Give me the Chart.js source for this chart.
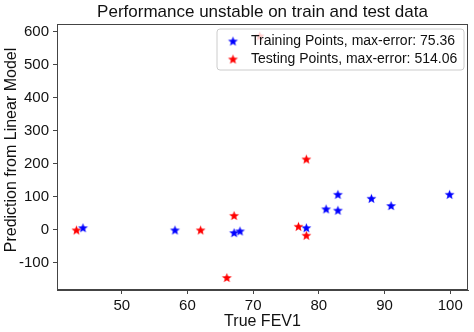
<!DOCTYPE html>
<html>
<head>
<meta charset="utf-8">
<script src="https://cdn.jsdelivr.net/npm/chart.js@4/dist/chart.umd.min.js"></script>
<style>
  html, body { margin: 0; padding: 0; background: #fff; }
</style>
</head>
<body>
<canvas id="chart" width="474" height="332"></canvas>
<script>
// data
const trainX = [44.1, 58.1, 67.1, 68.0, 78.1, 81.1, 82.9, 82.9, 88.0, 91.0, 99.9];
const trainY = [7, 0, -8, -3, 7, 64, 108, 60, 96, 74, 108];
const testX = [43.1, 62.0, 66.0, 67.1, 71.0, 76.9, 78.1, 78.1];
const testY = [0, 0, -144, 44, 588, 11, -16, 215];
const xTicks = [50, 60, 70, 80, 90, 100];
const yTicks = [-100, 0, 100, 200, 300, 400, 500, 600];
const trainLabel = "Training Points, max-error: 75.36";
const testLabel = "Testing Points, max-error: 514.06";
const titleText = "Performance unstable on train and test data";

const FONT = "'Liberation Sans', Arial, sans-serif";

// filled 5 point star like matplotlib '*'
function makeStar(color, r) {
    let cv = document.createElement("canvas");
    let s = Math.ceil(r * 2 + 2);
    cv.width = s;
    cv.height = s;
    let g = cv.getContext("2d");
    g.beginPath();
    for (let i = 0; i < 10; i++) {
        let rad = i % 2 ? r * 0.42 : r;
        let a = -Math.PI / 2 + (i * Math.PI) / 5;
        g.lineTo(s / 2 + rad * Math.cos(a), s / 2 + 0.6 + rad * Math.sin(a));
    }
    g.closePath();
    g.fillStyle = color;
    g.fill();
    return cv;
}

let blueStar = makeStar("#0000ff", 5.2);
let redStar = makeStar("#ff0000", 5.2);

// frame, titles and the legend box
let decorations = {
    id: "decorations",
    afterDatasetsDraw(chart) {
        let ctx = chart.ctx;
        let a = chart.chartArea;
        ctx.save();
        ctx.strokeStyle = "#444";
        ctx.lineWidth = 1;
        ctx.strokeRect(a.left + 0.5, a.top + 0.5, a.right - a.left - 1, a.bottom - a.top - 1);

        ctx.fillStyle = "#111";
        ctx.textAlign = "center";
        ctx.textBaseline = "middle";
        ctx.font = "17px " + FONT;
        ctx.fillText(titleText, (a.left + a.right) / 2, 12);

        ctx.save();
        ctx.translate(12, 150);
        ctx.rotate(-Math.PI / 2);
        ctx.font = "16px " + FONT;
        ctx.fillText("Prediction from Linear Model", 0, 0);
        ctx.restore();

        // legend
        let bx = 217, by = 29, bw = 247, bh = 41, r = 3;
        ctx.beginPath();
        ctx.moveTo(bx + r, by);
        ctx.arcTo(bx + bw, by, bx + bw, by + bh, r);
        ctx.arcTo(bx + bw, by + bh, bx, by + bh, r);
        ctx.arcTo(bx, by + bh, bx, by, r);
        ctx.arcTo(bx, by, bx + bw, by, r);
        ctx.closePath();
        ctx.fillStyle = "rgba(255,255,255,0.8)";
        ctx.fill();
        ctx.strokeStyle = "#ccc";
        ctx.stroke();

        let rows = [
            [blueStar, chart.data.datasets[0].label, 41],
            [redStar, chart.data.datasets[1].label, 59],
        ];
        ctx.font = "14px " + FONT;
        ctx.textAlign = "left";
        ctx.fillStyle = "#111";
        rows.forEach(function (row) {
            ctx.drawImage(row[0], 233 - row[0].width / 2, row[2] - row[0].height / 2);
            ctx.fillText(row[1], 251, row[2]);
        });
        ctx.restore();
    },
};

let canvas = document.getElementById("chart");
let myChart = new Chart(canvas, {
    type: "scatter",
    data: {
        datasets: [
            {
                label: trainLabel,
                data: trainX.map((x, i) => ({ x: x, y: trainY[i] })),
                pointStyle: blueStar,
                pointRadius: 5,
                backgroundColor: "#0000ff",
                borderColor: "#0000ff",
            },
            {
                label: testLabel,
                data: testX.map((x, i) => ({ x: x, y: testY[i] })),
                pointStyle: redStar,
                pointRadius: 5,
                backgroundColor: "#ff0000",
                borderColor: "#ff0000",
            },
        ],
    },
    options: {
        responsive: false,
        animation: false,
        devicePixelRatio: 1,
        layout: { padding: { top: 24, right: 4, left: 0, bottom: 0 } },
        plugins: {
            legend: { display: false },
            title: { display: false },
            tooltip: { enabled: false },
        },
        scales: {
            x: {
                type: "linear",
                min: 40.15,
                max: 102.7,
                afterBuildTicks: (s) => { s.ticks = xTicks.map((v) => ({ value: v })); },
                afterFit: (s) => { s.height = 42; },
                grid: { drawOnChartArea: false, drawTicks: true, tickLength: 4, color: "#444" },
                border: { display: true, color: "#444" },
                ticks: { color: "#111", font: { family: FONT, size: 15 }, padding: 3, maxRotation: 0 },
                title: { display: true, text: "True FEV1", color: "#111", font: { family: FONT, size: 16 }, padding: { top: 0, bottom: 1 } },
            },
            y: {
                type: "linear",
                min: -182,
                max: 624,
                afterBuildTicks: (s) => { s.ticks = yTicks.map((v) => ({ value: v })); },
                afterFit: (s) => { s.width = 57; },
                grid: { drawOnChartArea: false, drawTicks: true, tickLength: 4, color: "#444" },
                border: { display: true, color: "#444" },
                ticks: { color: "#111", font: { family: FONT, size: 15 }, padding: 4 },
            },
        },
    },
    plugins: [decorations],
});
</script>
</body>
</html>
